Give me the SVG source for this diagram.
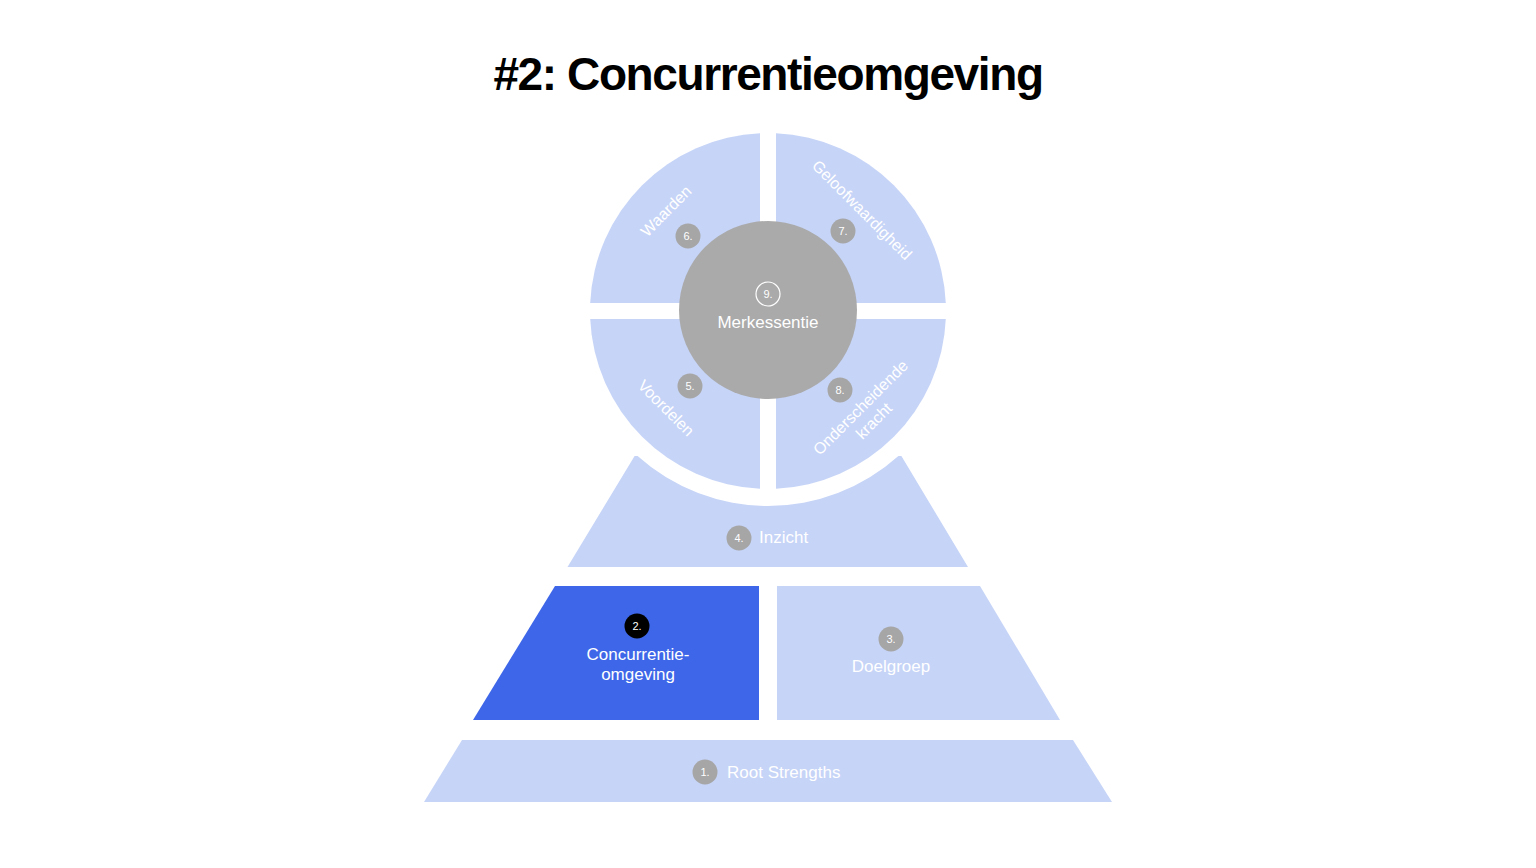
<svg xmlns="http://www.w3.org/2000/svg" width="1536" height="868" viewBox="0 0 1536 868">
<style>
.lb{fill:#c6d4f7}
.bl{fill:#3d66e8}
.gc{fill:#aaaaaa}
.bd{fill:#a6a6a6}
.t{font-family:"Liberation Sans",Arial,sans-serif;fill:#ffffff;font-size:17px}
.n{font-family:"Liberation Sans",Arial,sans-serif;fill:#ffffff;font-size:11px;text-anchor:middle;dominant-baseline:central}
.r{font-family:"Liberation Sans",Arial,sans-serif;fill:#ffffff;font-size:16px;text-anchor:middle;dominant-baseline:central}
</style>
<rect width="1536" height="868" fill="#ffffff"/>
<text x="768" y="90" font-family="'Liberation Sans',Arial,sans-serif" font-weight="bold" font-size="46" letter-spacing="-1.4" text-anchor="middle" fill="#000000">#2: Concurrentieomgeving</text>

<g id="inzicht">
<path class="lb" d="M634.6 456 L637.6 456 A195 195 0 0 0 898.4 456 L901.4 456 L968 567 L567.5 567 Z"/>
<circle class="bd" cx="739" cy="538" r="12.5"/>
<text class="n" x="739" y="538">4.</text>
<text class="t" x="759" y="543">Inzicht</text>
</g>

<g id="concurrentieomgeving">
<path class="bl" d="M555 586 L759 586 L759 720 L473 720 Z"/>
<circle cx="637" cy="626" r="12.5" fill="#000000"/>
<text class="n" x="637" y="626">2.</text>
<text class="t" x="638" y="660" text-anchor="middle">Concurrentie-</text>
<text class="t" x="638" y="680" text-anchor="middle">omgeving</text>
</g>

<g id="doelgroep">
<path class="lb" d="M777 586 L980 586 L1060 720 L777 720 Z"/>
<circle class="bd" cx="891" cy="639" r="12.5"/>
<text class="n" x="891" y="639">3.</text>
<text class="t" x="891" y="672" text-anchor="middle">Doelgroep</text>
</g>

<g id="root-strengths">
<path class="lb" d="M462 740 L1073 740 L1112 802 L424 802 Z"/>
<circle class="bd" cx="705" cy="772" r="12.5"/>
<text class="n" x="705" y="772">1.</text>
<text class="t" x="727" y="778">Root Strengths</text>
</g>

<g id="waarden">
<path class="lb" d="M760 303 L760 133.2 A178 178 0 0 0 590.2 303 Z"/>
<text class="r" transform="translate(666 211) rotate(-45)">Waarden</text>
<circle class="bd" cx="688" cy="236" r="12.5"/>
<text class="n" x="688" y="236">6.</text>
</g>

<g id="geloofwaardigheid">
<path class="lb" d="M776 303 L776 133.2 A178 178 0 0 1 945.8 303 Z"/>
<text class="r" transform="translate(862 210) rotate(45)">Geloofwaardigheid</text>
<circle class="bd" cx="843" cy="231" r="12.5"/>
<text class="n" x="843" y="231">7.</text>
</g>

<g id="voordelen">
<path class="lb" d="M760 319 L760 488.8 A178 178 0 0 1 590.2 319 Z"/>
<text class="r" transform="translate(666 408) rotate(45)">Voordelen</text>
<circle class="bd" cx="690" cy="386" r="12.5"/>
<text class="n" x="690" y="386">5.</text>
</g>

<g id="onderscheidende-kracht">
<path class="lb" d="M776 319 L776 488.8 A178 178 0 0 0 945.8 319 Z"/>
<g transform="translate(864 411) rotate(-45)">
<text class="r" x="0" y="-5">Onderscheidende</text>
<text class="r" x="0" y="14">kracht</text>
</g>
<circle class="bd" cx="840" cy="390" r="12.5"/>
<text class="n" x="840" y="390">8.</text>
</g>

<g id="merkessentie">
<circle class="gc" cx="768" cy="310" r="89"/>
<circle cx="768" cy="294" r="12" fill="none" stroke="#ffffff" stroke-width="1.2"/>
<text class="n" x="768" y="294">9.</text>
<text class="t" x="768" y="328" text-anchor="middle">Merkessentie</text>
</g>

<g id="connectors"></g>
</svg>
